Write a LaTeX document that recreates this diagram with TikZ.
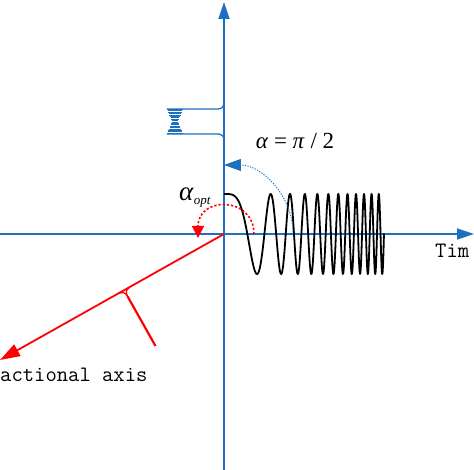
\documentclass[tikz,border=0pt]{standalone}
\usepackage{fontspec}
\newfontfamily\anglefont{Liberation Serif}
\usetikzlibrary{arrows.meta,calc}
\definecolor{axisblue}{HTML}{1E70C0}
\definecolor{fracred}{HTML}{FF0000}

\begin{document}
\begin{tikzpicture}[x=1pt,y=1pt,
  axisline/.style={axisblue,line width=1.8pt,-{Triangle[length=17pt,width=11pt]}},
  fracline/.style={fracred,line width=1.8pt,-{Triangle[length=20pt,width=13pt]}},
  rotblue/.style={axisblue,line width=0.9pt,dash pattern=on 1.3pt off 1.3pt,-{Triangle[length=17pt,width=12pt]}},
  rotred/.style={fracred,line width=1.6pt,dash pattern=on 2.2pt off 2pt,-{Triangle[length=12pt,width=12pt]}},
  axistext/.style={font=\ttfamily\fontsize{22}{22}\selectfont,anchor=base west,inner sep=0pt},
  angletext/.style={font=\anglefont\fontsize{23}{23}\selectfont,inner sep=0pt}]
  \useasboundingbox (-224,-236) rectangle (250,234);
  \coordinate (O) at (0,0);

  % Time and frequency axes
  \coordinate (tstart) at (-224,0);
  \coordinate (tend) at (250,0);
  \coordinate (fstart) at (0,-236);
  \coordinate (fend) at (0,232);
  \draw[axisline] (tstart) -- (tend);
  \draw[axisline] (fstart) -- (fend);
  \node[axistext] (timelabel) at (211,-24) {Tim};

  % Chirp signal
  \draw[black,line width=1.8pt,line join=round] plot[domain=0:160,samples=900]
    (\x,{40*cos(180*(\x/33)^2)});

  % Spectrum on the frequency axis
  \draw[axisblue,line width=1.3pt] (-57,125) -- (-8,125) .. controls (-1,125) and (0,127) .. (0,133);
  \draw[axisblue,line width=1.3pt] (-57,100) -- (-8,100) .. controls (-1,100) and (0,98) .. (0,92);
  \foreach \h in {100.8,102.2,...,125} {
    \pgfmathsetmacro{\w}{3+5*abs(\h-112.5)/12.5}
    \draw[axisblue,line width=0.8pt] ({-49-\w},\h) -- ({-49+\w},\h);
  }

  % Rotation by pi/2
  \coordinate (bluestart) at (69,0);
  \draw[rotblue] (bluestart) arc[start angle=0,end angle=90,radius=69];
  \node[angletext,anchor=base] (halfpi) at (71,85) {\textit{α} = \textit{π} / 2};

  % Fractional axis
  \coordinate (fracend) at (-224,-126);
  \draw[fracline] (O) -- (fracend);
  \node[axistext] (fraclabel) at (-224,-148) {actional axis};

  % Compressed chirp on the fractional axis
  \coordinate (spike) at ($(O)!0.446!(fracend)$);
  \begin{scope}[shift={(spike)},rotate=29.36,fracred,line width=1.2pt]
    \draw (0,-7) .. controls (0,-2) and (-3,0) .. (-6,0);
    \draw (0,-7) .. controls (0,-2) and (3,0) .. (6,0);
    \draw[line width=2.2pt] (0,-7) -- (0,-64);
  \end{scope}

  % Optimal rotation
  \coordinate (redstart) at (30,0);
  \coordinate (redend) at (-26,-4);
  \draw[rotred] (redstart) .. controls (30,38) and (-26,38) .. (redend);
  \node[angletext,anchor=base west] (optangle) at (-45,33)
    {\fontsize{27}{27}\selectfont\textit{α}\raisebox{-4pt}{\fontsize{13}{13}\selectfont\textit{opt}}};
\end{tikzpicture}
\end{document}
